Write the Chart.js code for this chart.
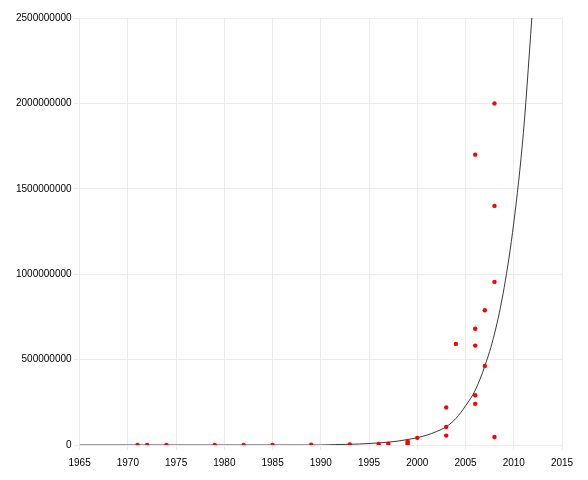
<!DOCTYPE html>
<html>
<head>
<meta charset="utf-8">
<script src="https://cdn.jsdelivr.net/npm/chart.js@4/dist/chart.umd.min.js"></script>
<style>
  body { margin: 0; background: #fff; }
  #wrap { width: 588px; height: 480px; }
</style>
</head>
<body>
<div id="wrap"><canvas id="myChart" width="588" height="480"></canvas></div>
<script>
// transistor counts per processor (year, count)
const chipYears = [1971, 1972, 1974, 1979, 1982, 1985, 1989, 1993, 1996, 1997,
    1999, 1999, 1999, 2000, 2003, 2003, 2003, 2004, 2006, 2006, 2006, 2006, 2006,
    2007, 2007, 2008, 2008, 2008, 2008];
const chipCounts = [2300, 3500, 4500, 29000, 134000, 275000, 1180000, 3100000, 5500000, 7500000,
    4000000, 12000000, 22000000, 42000000, 55000000, 106000000, 220000000, 592000000,
    241000000, 291000000, 582000000, 681000000, 1700000000,
    463000000, 789000000, 47000000, 955000000, 1400000000, 2000000000];

// trend curve
const trendYears = [1965, 1970, 1975, 1980, 1985, 1990, 1991.5, 1993, 1994, 1996, 1998,
    2000, 2001, 2002, 2003, 2004, 2005, 2006, 2007, 2008, 2009, 2010, 2011, 2012];
const trendCounts = [0, 0, 0, 0, 0, 0, 2500000, 4000000, 6000000, 12000000, 23000000,
    43000000, 58000000, 79000000, 107000000, 155000000, 229000000, 320000000, 462000000,
    650000000, 920000000, 1300000000, 1830000000, 2600000000];

const xTicks = [1965, 1970, 1975, 1980, 1985, 1990, 1995, 2000, 2005, 2010, 2015];
const yTicks = [0, 500000000, 1000000000, 1500000000, 2000000000, 2500000000];

const chipPoints = chipYears.map((y, i) => ({ x: y, y: chipCounts[i] }));
const trendPoints = trendYears.map((y, i) => ({ x: y, y: trendCounts[i] }));

const ctx = document.querySelector('#myChart').getContext('2d');
const myChart = new Chart(ctx, {
    type: 'scatter',
    data: {
        datasets: [
            {
                data: chipPoints,
                backgroundColor: '#ff0000',
                borderColor: '#ff0000',
                pointRadius: 2.2,
                pointBorderWidth: 0,
                order: 0
            },
            {
                type: 'line',
                data: trendPoints,
                borderColor: '#3a3a3a',
                borderWidth: 1,
                pointRadius: 0,
                cubicInterpolationMode: 'monotone',
                fill: false,
                order: 1
            }
        ]
    },
    options: {
        responsive: false,
        animation: false,
        layout: {
            padding: { left: 14, right: 26, top: 18, bottom: 4 }
        },
        plugins: {
            legend: { display: false },
            tooltip: { enabled: false }
        },
        scales: {
            x: {
                type: 'linear',
                min: 1965,
                max: 2015,
                afterBuildTicks: axis => { axis.ticks = xTicks.map(v => ({ value: v })); },
                grid: {
                    color: '#ececec',
                    tickLength: 5
                },
                border: { display: false },
                ticks: {
                    color: '#000',
                    padding: 7,
                    maxRotation: 0,
                    font: { family: 'Liberation Sans', size: 10 },
                    callback: v => String(v)
                }
            },
            y: {
                min: 0,
                max: 2500000000,
                afterBuildTicks: axis => { axis.ticks = yTicks.map(v => ({ value: v })); },
                grid: {
                    color: '#ececec',
                    tickLength: 6
                },
                border: { display: false },
                ticks: {
                    color: '#000',
                    padding: 2,
                    font: { family: 'Liberation Sans', size: 10 },
                    callback: v => String(v)
                }
            }
        }
    }
});
</script>
</body>
</html>
